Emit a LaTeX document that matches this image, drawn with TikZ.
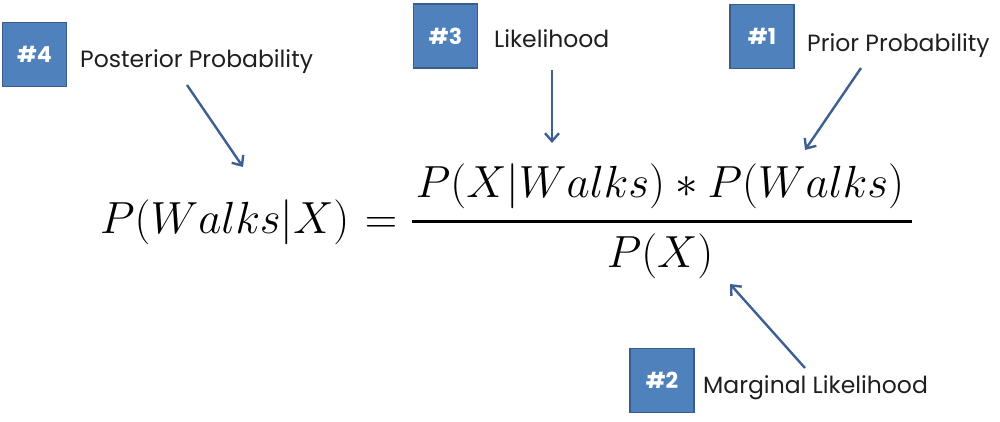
\RequirePackage{fix-cm}
\documentclass[tikz,border=0pt]{standalone}
\usepackage{fontspec}
\newfontfamily\labelfont{Poppins}
\usetikzlibrary{arrows.meta}
\definecolor{boxfill}{RGB}{79,129,189}
\definecolor{boxedge}{RGB}{56,93,138}
\definecolor{arrowblue}{RGB}{62,95,145}
\tikzset{
  numbox/.style={draw=boxedge, line width=1.5pt, fill=boxfill, minimum width=64pt, minimum height=64pt, inner sep=0pt, text=white, font=\labelfont\bfseries\fontsize{22}{26}\selectfont},
  lbl/.style={anchor=base west, inner sep=0pt, text=black!88, font=\labelfont\fontsize{23.5}{28}\selectfont},
  eq/.style={anchor=base, inner sep=0pt, font=\fontsize{45}{54}\selectfont},
  pointer/.style={draw=arrowblue, line width=2.4pt, -{Straight Barb[length=8pt,width=14pt,line width=2.4pt]}}
}
\begin{document}
\begin{tikzpicture}[x=1pt,y=-1pt]
\useasboundingbox (0,0) rectangle (1000,421);
% boxes
\node[numbox] (b4) at (34.5,54.5) {\#4};
\node[numbox] (b3) at (445.5,36) {\#3};
\node[numbox] (b1) at (762,36.5) {\#1};
\node[numbox] (b2) at (662,380.5) {\#2};
% labels
\node[lbl] (l4) at (80,67) {Posterior Probability};
\node[lbl] (l3) at (494,47) {Likelihood};
\node[lbl] (l1) at (807,51) {Prior Probability};
\node[lbl] (l2) at (703,393) {Marginal Likelihood};
% equation
\node[eq, anchor=base west] (lhs) at (100,233) {$P(Walks|X)$};
\node[eq] (eqs) at (381,233) {$=$};
\node[eq] (num) at (660,197) {$P(X|Walks)\ast P(Walks)$};
\node[eq] (den) at (660,267) {$P(X)$};
\coordinate (barL) at (412,221);
\coordinate (barR) at (912,221);
\draw[line width=3pt] (barL) -- (barR);
% arrows
\coordinate (a4s) at (187,85);  \coordinate (a4e) at (243,167);
\coordinate (a3s) at (552,70);  \coordinate (a3e) at (552,143);
\coordinate (a1s) at (861,68);  \coordinate (a1e) at (805,150);
\coordinate (a2s) at (805,368); \coordinate (a2e) at (730,284);
\draw[pointer] (a4s) -- (a4e);
\draw[pointer] (a3s) -- (a3e);
\draw[pointer] (a1s) -- (a1e);
\draw[pointer] (a2s) -- (a2e);
\end{tikzpicture}
\end{document}
